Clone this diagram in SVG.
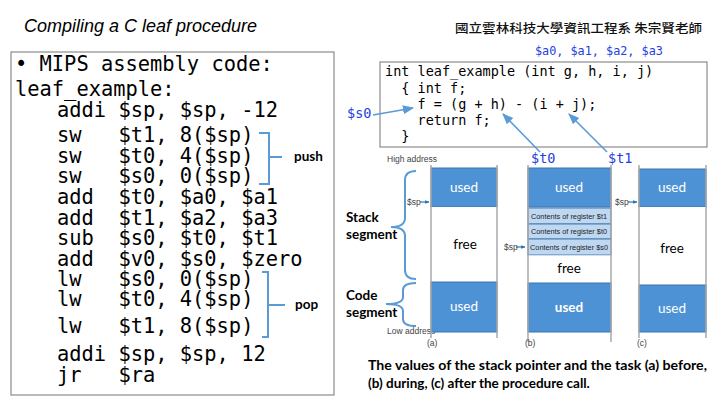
<svg xmlns="http://www.w3.org/2000/svg" width="720" height="405" viewBox="0 0 720 405">
<style>
.asm{font-family:"DejaVu Sans Mono",monospace;font-size:20.4px;fill:#000}
.cc{font-family:"DejaVu Sans Mono",monospace;font-size:13.5px;fill:#000}
.reg{font-family:"DejaVu Sans Mono",monospace;fill:#2440e0}
.lbl{font-family:Lato,"Liberation Sans",sans-serif;font-weight:bold;fill:#000}
.blk{font-family:Lato,"Liberation Sans",sans-serif;font-size:13.5px;text-anchor:middle}
.small{font-family:"Liberation Sans",Arial,sans-serif;font-size:8.5px;fill:#444}
.cont{font-family:"Liberation Sans",Arial,sans-serif;font-size:8px;fill:#222;text-anchor:middle}
.used{fill:#4e92d6;stroke:#3d74ab;stroke-width:1}
.row{fill:#bfd8f2;stroke:#4a7ab0;stroke-width:1}
.free{fill:#fff}
.vl{stroke:#a8a8a8;stroke-width:1.5}
.br{fill:none;stroke:#5b9bd5;stroke-width:2}
.ar{stroke:#5b9bd5;stroke-width:1.6;fill:none}
.sp{stroke:#2e75b6;stroke-width:1.2;fill:none}
</style>
<defs>
<marker id="ah" viewBox="0 0 10 10" refX="9" refY="5" markerWidth="7" markerHeight="7" orient="auto">
<path d="M0,1 L10,5 L0,9 z" fill="#5b9bd5"/>
</marker>
<marker id="ahs" viewBox="0 0 10 10" refX="9" refY="5" markerWidth="4" markerHeight="4" orient="auto">
<path d="M0,1 L10,5 L0,9 z" fill="#2e75b6"/>
</marker>
</defs>
<rect width="720" height="405" fill="#fff"/>

<g id="title">
<text x="24" y="32" font-family="Liberation Sans, Arial, sans-serif" font-style="italic" font-size="18" fill="#000">Compiling a C leaf procedure</text>
</g>

<g id="header">
<text x="455" y="33" font-family="Noto Sans CJK TC, sans-serif" font-weight="500" font-size="12.5" fill="#111" textLength="247" lengthAdjust="spacingAndGlyphs">國立雲林科技大學資訊工程系 朱宗賢老師</text>
</g>

<g id="asm-code">
<rect x="11" y="52" width="323" height="343" fill="#fff" stroke="#8c8c8c" stroke-width="1.2"/>
<text class="asm" x="15" y="71" font-size="19.3" xml:space="preserve">• MIPS assembly code:</text>
<text class="asm" x="15" y="96">leaf_example:</text>
<text class="asm" x="57" y="117" xml:space="preserve">addi $sp, $sp, -12</text>
<text class="asm" x="57" y="142" xml:space="preserve">sw   $t1, 8($sp)</text>
<text class="asm" x="57" y="163" xml:space="preserve">sw   $t0, 4($sp)</text>
<text class="asm" x="57" y="183" xml:space="preserve">sw   $s0, 0($sp)</text>
<text class="asm" x="57" y="204" xml:space="preserve">add  $t0, $a0, $a1</text>
<text class="asm" x="57" y="225" xml:space="preserve">add  $t1, $a2, $a3</text>
<text class="asm" x="57" y="245" xml:space="preserve">sub  $s0, $t0, $t1</text>
<text class="asm" x="57" y="266" xml:space="preserve">add  $v0, $s0, $zero</text>
<text class="asm" x="57" y="286" xml:space="preserve">lw   $s0, 0($sp)</text>
<text class="asm" x="57" y="306" xml:space="preserve">lw   $t0, 4($sp)</text>
<text class="asm" x="57" y="333" xml:space="preserve">lw   $t1, 8($sp)</text>
<text class="asm" x="57" y="361" xml:space="preserve">addi $sp, $sp, 12</text>
<text class="asm" x="57" y="382" xml:space="preserve">jr   $ra</text>
</g>

<g id="push-bracket">
<path class="br" d="M259,133 H269 V184 H259 M269,157 H282"/>
<text class="lbl" x="294" y="161" font-size="13.5">push</text>
</g>
<g id="pop-bracket">
<path class="br" d="M262,272 H268 V337 H262 M268,305 H285"/>
<text class="lbl" x="295" y="309" font-size="13.5">pop</text>
</g>

<g id="c-code">
<rect x="380" y="62" width="327" height="85" fill="#fff" stroke="#8c8c8c" stroke-width="1.2"/>
<text class="cc" x="385" y="76" xml:space="preserve">int leaf_example (int g, h, i, j)</text>
<text class="cc" x="385" y="93" xml:space="preserve">  { int f;</text>
<text class="cc" x="385" y="109" xml:space="preserve">    f = (g + h) - (i + j);</text>
<text class="cc" x="385" y="125" xml:space="preserve">    return f;</text>
<text class="cc" x="385" y="141" xml:space="preserve">  }</text>
</g>

<g id="reg-labels">
<text class="reg" x="535" y="55" font-size="11.8" xml:space="preserve">$a0, $a1, $a2, $a3</text>
<text class="reg" x="347" y="118" font-size="13.5">$s0</text>
<text class="reg" x="531" y="163" font-size="13.5">$t0</text>
<text class="reg" x="608" y="163" font-size="13.5">$t1</text>
</g>

<g id="connectors">
<line class="ar" x1="373" y1="115" x2="413" y2="108" marker-end="url(#ah)"/>
<line class="ar" x1="540" y1="152" x2="503" y2="114" marker-end="url(#ah)"/>
<line class="ar" x1="607" y1="152" x2="569" y2="114" marker-end="url(#ah)"/>
<line class="sp" x1="420" y1="202" x2="429" y2="202" marker-end="url(#ahs)"/>
<line class="sp" x1="516" y1="247" x2="525" y2="247" marker-end="url(#ahs)"/>
<line class="sp" x1="628" y1="202" x2="637" y2="202" marker-end="url(#ahs)"/>
</g>

<g id="axis-labels">
<text class="small" x="387" y="162">High address</text>
<text class="small" x="387" y="334">Low address</text>
<path class="br" d="M416,171 Q405,171 405,180 L405,218 Q405,227 391,227 Q405,227 405,236 L405,270 Q405,279 416,279"/>
<path class="br" d="M416,283 Q403,283 403,290 L403,297 Q403,304 386,304 Q403,304 403,311 L403,319 Q403,326 416,326"/>
<text class="lbl" x="346" y="222" font-size="13.5">Stack</text>
<text class="lbl" x="346" y="239" font-size="13.5">segment</text>
<text class="lbl" x="346" y="300" font-size="13.5">Code</text>
<text class="lbl" x="346" y="317" font-size="13.5">segment</text>
</g>

<g id="stack-a">
<rect class="used" x="431" y="168" width="66" height="39"/>
<rect class="free" x="431" y="207" width="66" height="75"/>
<rect class="used" x="431" y="282" width="66" height="50"/>
<line class="vl" x1="431" y1="165" x2="431" y2="338"/>
<line class="vl" x1="497" y1="165" x2="497" y2="338"/>
<text class="blk" x="464" y="192" fill="#fff">used</text>
<text class="blk" x="465" y="249" fill="#000">free</text>
<text class="blk" x="464" y="311" fill="#fff">used</text>
<text class="small" x="407" y="205">$sp</text>
<text class="small" x="427" y="346">(a)</text>
</g>

<g id="stack-b">
<rect class="used" x="528" y="168" width="83" height="39"/>
<rect class="row" x="528" y="208" width="83" height="16"/>
<rect class="row" x="528" y="224" width="83" height="15"/>
<rect class="row" x="528" y="239" width="83" height="16"/>
<rect class="free" x="528" y="255.5" width="83" height="27"/>
<rect class="used" x="528" y="283" width="83" height="49"/>
<line class="vl" x1="528" y1="165" x2="528" y2="342"/>
<line class="vl" x1="611" y1="165" x2="611" y2="342"/>
<text class="blk" x="569" y="192" fill="#fff">used</text>
<text class="cont" x="569" y="219" textLength="76" lengthAdjust="spacingAndGlyphs">Contents of register $t1</text>
<text class="cont" x="569" y="234" textLength="76" lengthAdjust="spacingAndGlyphs">Contents of register $t0</text>
<text class="cont" x="569" y="250" textLength="78" lengthAdjust="spacingAndGlyphs">Contents of register $s0</text>
<text class="blk" x="569" y="273" fill="#000">free</text>
<text class="blk" x="569" y="312" fill="#fff" font-weight="bold">used</text>
<text class="small" x="504" y="250">$sp</text>
<text class="small" x="525" y="346">(b)</text>
</g>

<g id="stack-c">
<rect class="used" x="639" y="169" width="67" height="38"/>
<rect class="free" x="639" y="207" width="67" height="78"/>
<rect class="used" x="639" y="285" width="67" height="47"/>
<line class="vl" x1="639" y1="165" x2="639" y2="338"/>
<line class="vl" x1="706" y1="165" x2="706" y2="338"/>
<text class="blk" x="672" y="192" fill="#fff">used</text>
<text class="blk" x="672" y="253" fill="#000">free</text>
<text class="blk" x="672" y="313" fill="#fff">used</text>
<text class="small" x="615" y="205">$sp</text>
<text class="small" x="637" y="346">(c)</text>
</g>

<g id="caption">
<text class="lbl" x="368" y="370" font-size="13.5" textLength="339" lengthAdjust="spacingAndGlyphs">The values of the stack pointer and the task (a) before,</text>
<text class="lbl" x="368" y="388" font-size="13.5">(b) during, (c) after the procedure call.</text>
</g>
</svg>
